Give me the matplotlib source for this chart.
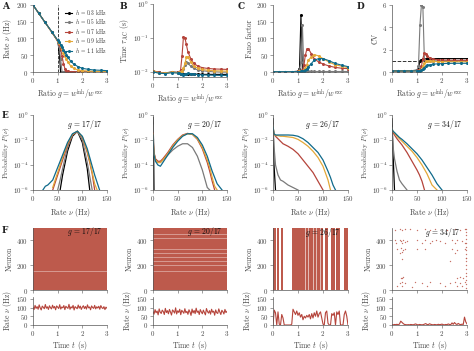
import numpy as np
import matplotlib
matplotlib.use("Agg")
import matplotlib.pyplot as plt

plt.rcParams.update({
    "font.family": "serif",
    "font.serif": ["cmr10", "DejaVu Serif"],
    "mathtext.fontset": "cm",
    "axes.formatter.use_mathtext": True,
    "font.size": 5,
    "axes.linewidth": 0.5,
    "axes.edgecolor": "#555555",
    "text.color": "#333333",
    "axes.labelcolor": "#444444",
    "xtick.color": "#555555",
    "ytick.color": "#555555",
    "xtick.labelcolor": "#444444",
    "ytick.labelcolor": "#444444",
})

W, H = 474, 351

# ---- data -------------------------------------------------------------
H_VALUES = [0.3, 0.5, 0.7, 0.9, 1.1]
H_COLORS = ["#000000", "#7a7a7a", "#b5443b", "#e3a838", "#0f6a8b"]

# g = n / 17
G_NUM = [0, 4, 8, 13, 17, 18, 19, 20, 21, 22, 23, 24, 26, 28, 31, 34, 38, 42, 47, 51]
nan = np.nan

A_RATE = [
    [200, 175, 150, 119, 92, 65, 0, 0, 0, 0, 0, 0, 0, 0, 0, 0, 0, 0, 0, 0],
    [200, 175, 150, 119, 93, 78, 40, 1, 0, 0, 0, 0, 0, 0, 0, 0, 0, 0, 0, 0],
    [200, 175, 150, 119, 93, 84, 70, 48, 25, 10, 4, 2, 1, 0.5, 0.3, 0.2, 0.1, 0.1, 0.1, 0.1],
    [200, 175, 150, 119, 94, 87, 78, 68, 58, 48, 38, 30, 18, 11, 6, 4, 3, 2, 1.5, 1],
    [200, 175, 150, 120, 95, 89, 82, 75, 67, 59, 51, 44, 32, 24, 16, 11, 8, 6, 5, 4],
]
B_TAU = [
    [0.0105, 0.0098, 0.0095, 0.0100, 0.0098, 0.0092, 0.0088, 0.0086, 0.0086, 0.0087,
     0.0088, 0.0088, 0.0088, 0.0087, 0.0087, 0.0086, 0.0086, 0.0086, 0.0086, 0.0086],
    [0.0105, 0.0098, 0.0094, 0.0099, 0.0097, 0.0095, 0.0098, 0.0105, 0.012, 0.016,
     0.020, 0.018, 0.015, 0.013, 0.0115, 0.011, 0.0105, 0.0102, 0.0100, 0.0100],
    [0.0110, 0.0099, 0.0095, 0.0100, 0.0098, 0.0100, 0.0115, 0.030, 0.11, 0.10,
     0.065, 0.040, 0.025, 0.018, 0.015, 0.0135, 0.0128, 0.0124, 0.0122, 0.0120],
    [0.0108, 0.0097, 0.0094, 0.0099, 0.0097, 0.0098, 0.0102, 0.011, 0.013, 0.018,
     0.027, 0.028, 0.020, 0.015, 0.013, 0.012, 0.0113, 0.0110, 0.0108, 0.0107],
    [0.0102, 0.0093, 0.0091, 0.0096, 0.0094, 0.0092, 0.0089, 0.0086, 0.0085, 0.0087,
     0.0090, 0.0092, 0.0091, 0.0088, 0.0085, 0.0083, 0.0082, 0.0081, 0.0080, 0.0080],
]
C_FANO = [
    [1, 1, 1, 1, 2, 8, 170, 2, nan, nan, nan, nan, nan, nan, nan, nan, nan, nan, nan, nan],
    [1, 1, 1, 1, 2, 5, 30, 140, 3, 2, 1.5, 1.5, 1.5, 1.5, 1.5, 1.5, 1.5, 1.5, 1.5, 1.5],
    [1, 1, 1, 1, 1.5, 2, 3, 5, 20, 50, 68, 70, 55, 40, 30, 24, 18, 14, 11, 10],
    [1, 1, 1, 1, 1.3, 1.5, 2, 3, 6, 12, 22, 35, 45, 52, 48, 40, 30, 22, 17, 13],
    [1, 1, 1, 1, 1.2, 1.3, 1.5, 2, 3, 5, 9, 15, 25, 35, 40, 40, 34, 26, 20, 16],
]
D_CV = [
    [0.1, 0.1, 0.1, 0.1, 0.15, 0.3, 1.0, 1.1, 1.15, 1.2, 1.2, 1.2, 1.2, 1.2, 1.2, 1.2, 1.2, 1.2, 1.2, 1.2],
    [0.1, 0.1, 0.1, 0.1, 0.2, 0.5, 4.2, 6.0, 5.8, 1.2, 1.0, 1.0, 1.0, 1.0, 1.0, 1.0, 1.0, 1.0, 1.0, 1.0],
    [0.1, 0.1, 0.1, 0.1, 0.12, 0.15, 0.2, 0.5, 1.2, 1.7, 1.6, 1.4, 1.25, 1.15, 1.1, 1.08, 1.06, 1.05, 1.05, 1.05],
    [0.1, 0.1, 0.1, 0.1, 0.1, 0.12, 0.15, 0.2, 0.5, 0.8, 0.95, 1.0, 1.0, 0.95, 0.93, 0.92, 0.92, 0.92, 0.92, 0.92],
    [0.1, 0.1, 0.1, 0.1, 0.1, 0.1, 0.12, 0.15, 0.25, 0.4, 0.5, 0.6, 0.65, 0.7, 0.73, 0.75, 0.77, 0.78, 0.78, 0.78],
]

# rate distributions, log10 P(nu)
E1_NU = [20, 25, 30, 40, 50, 55, 60, 70, 80, 90, 100, 110, 115, 120, 125, 130, 135, 140]
E1_LOGP = [
    [nan, nan, nan, nan, nan, -6, -4.8, -2.9, -1.7, -1.3, -2.2, -4.3, -6, nan, nan, nan, nan, nan],
    [nan, nan, nan, nan, -6, -5.2, -4.3, -2.6, -1.6, -1.3, -2.0, -3.8, -4.9, -6, nan, nan, nan, nan],
    [nan, nan, nan, -6, -4.8, -4.2, -3.6, -2.4, -1.6, -1.3, -1.8, -3.0, -3.8, -4.7, -6, nan, nan, nan],
    [nan, nan, nan, -5.8, -4.6, -4.0, -3.4, -2.3, -1.55, -1.3, -1.75, -2.9, -3.7, -4.6, -5.5, -6, nan, nan],
    [-6, -5.7, -5.6, -5.2, -4.2, -3.7, -3.2, -2.2, -1.5, -1.3, -1.7, -2.7, -3.4, -4.1, -4.8, -5.4, -6, nan],
]
E2_NU = [0, 1, 2, 5, 10, 15, 20, 30, 40, 50, 60, 70, 80, 90, 100, 110, 115, 120, 125, 130, 140]
E2_LOGP = [
    [-0.2, -2, -6, nan, nan, nan, nan, nan, nan, nan, nan, nan, nan, nan, nan, nan, nan, nan, nan, nan, nan],
    [-0.8, -2.2, -3.0, -3.6, -3.8, -3.8, -3.6, -3.2, -2.8, -2.5, -2.3, -2.3, -2.6, -3.3, -4.4, -5.8, -6, nan, nan, nan, nan],
    [-1.4, -2.4, -3.0, -3.5, -3.7, -3.7, -3.5, -3.0, -2.4, -1.95, -1.6, -1.47, -1.55, -1.95, -2.7, -3.8, -4.5, -5.3, -6, nan, nan],
    [-1.5, -2.5, -3.1, -3.6, -3.8, -3.8, -3.6, -3.1, -2.5, -2.0, -1.65, -1.5, -1.55, -1.9, -2.6, -3.6, -4.2, -5.0, -5.7, -6, nan],
    [-1.6, -2.6, -3.2, -3.7, -4.0, -4.1, -3.8, -3.2, -2.6, -2.1, -1.7, -1.5, -1.5, -1.8, -2.4, -3.3, -3.9, -4.5, -5.0, -5.5, -6],
]
E3_NU = [0, 2, 5, 10, 15, 20, 30, 40, 50, 60, 70, 80, 90, 100, 110, 115, 120, 125, 130]
E3_LOGP = [
    [-0.3, -4, -6, nan, nan, nan, nan, nan, nan, nan, nan, nan, nan, nan, nan, nan, nan, nan, nan],
    [-0.8, -2.5, -4.0, -4.8, -5.2, -5.3, -5.6, -5.8, -6, nan, nan, nan, nan, nan, nan, nan, nan, nan, nan],
    [-0.9, -1.5, -1.7, -1.9, -2.1, -2.3, -2.5, -2.75, -3.1, -3.6, -4.1, -4.6, -5.3, -6, nan, nan, nan, nan, nan],
    [-0.9, -1.5, -1.65, -1.65, -1.7, -1.7, -1.75, -1.8, -1.95, -2.2, -2.5, -2.9, -3.4, -4.1, -5.2, -6, nan, nan, nan],
    [-0.9, -1.5, -1.6, -1.6, -1.6, -1.6, -1.6, -1.62, -1.7, -1.9, -2.2, -2.6, -3.0, -3.6, -4.5, -5.0, -5.6, -6, nan],
]
E4_NU = [0, 2, 5, 10, 15, 20, 30, 40, 50, 55, 60, 65, 70, 80, 90, 100]
E4_LOGP = [
    [-0.3, -3, -6, nan, nan, nan, nan, nan, nan, nan, nan, nan, nan, nan, nan, nan],
    [-1.0, -2.5, -3.5, -4.5, -5.2, -5.5, -6, nan, nan, nan, nan, nan, nan, nan, nan, nan],
    [-1.1, -1.4, -1.6, -1.9, -2.15, -2.4, -3.0, -3.7, -4.4, -4.8, -5.3, -6, nan, nan, nan, nan],
    [-1.1, -1.3, -1.45, -1.7, -1.9, -2.1, -2.5, -2.9, -3.4, -3.7, -4.0, -4.35, -4.7, -5.6, -6, nan],
    [-1.1, -1.3, -1.4, -1.6, -1.8, -1.95, -2.3, -2.7, -3.1, -3.35, -3.6, -3.9, -4.2, -4.8, -5.5, -6],
]
E_LABELS = ["17/17", "20/17", "26/17", "34/17"]

# rasters: intervals where the whole network fires, weaker neurons
F1_ACTIVE = [(0.0, 3.0)]
F1_WEAK = [150]
F2_ACTIVE = [(0.0, 3.0)]
F2_WEAK = [150, 200, 230, 270, 300, 330, 420, 450]
F3_ACTIVE = [(0.0, 0.11), (0.17, 0.24), (0.31, 0.41), (0.76, 2.0), (2.09, 2.2),
             (2.31, 2.47), (2.53, 2.67), (2.84, 3.0)]
F3_GAPS = [1.28, 1.42, 1.6, 1.72, 1.88]
F4_SPIKE_T = [0.1, 0.3, 0.4, 0.5, 0.7, 1.0, 1.3, 1.5, 1.7, 2.2, 2.5, 2.7, 2.9,
              0.1, 0.3, 0.35, 0.45, 0.6, 1.0, 1.3, 1.6, 1.75, 1.9, 2.4, 2.6, 2.8,
              0.15, 0.4, 0.5, 1.2, 1.5, 2.1, 2.5, 2.9,
              0.2, 0.35, 0.45, 0.5, 1.0, 1.3, 2.4, 2.6, 2.9,
              0.3, 0.4, 2.5, 0.4, 2.3, 2.95,
              0.35, 0.4, 0.45, 2.6, 2.7, 2.85,
              0.3, 0.4, 0.5, 0.9, 1.2, 1.5, 1.9, 2.3, 2.5, 2.7, 2.9,
              0.2, 0.4, 0.8, 1.4, 2.1, 2.6, 2.8]
F4_SPIKE_N = [485, 490, 480, 488, 492, 485, 490, 482, 488, 486, 490, 484, 488,
              400, 405, 395, 402, 398, 404, 400, 396, 402, 398, 404, 400, 396,
              380, 378, 384, 380, 376, 382, 380, 378,
              330, 335, 325, 332, 328, 334, 330, 326, 332,
              300, 305, 298, 250, 230, 260,
              100, 95, 105, 98, 102, 96,
              60, 62, 58, 61, 59, 63, 60, 58, 62, 60, 61,
              30, 32, 28, 31, 29, 30, 32]
F4_COLUMN_N = [20, 50, 80, 110, 140, 170, 200, 230, 260, 290, 320, 350, 380, 410, 440, 470, 495]

F1_RATE = [100, 88, 112, 95, 105, 90, 115, 98, 86, 108, 101, 93, 117, 96, 104, 89, 110, 99,
           92, 113, 97, 106, 87, 109, 102, 94, 116, 91, 103, 98, 111, 88, 107, 100, 95, 118,
           90, 104, 97, 112, 86, 105, 99, 93, 114, 96, 108, 89, 102, 110, 94, 106, 91, 115,
           98, 103, 87, 109, 100, 95, 112, 92, 104, 97, 107, 90, 111, 99, 94, 105, 88, 102, 96]
F2_RATE = [75, 62, 88, 70, 80, 58, 92, 73, 66, 85, 77, 60, 95, 71, 82, 64, 89, 74, 57, 86,
           79, 68, 98, 63, 81, 72, 90, 59, 84, 76, 67, 93, 70, 78, 61, 87, 74, 55, 91, 69,
           83, 65, 96, 72, 80, 60, 88, 75, 64, 85, 71, 58, 94, 77, 68, 82, 62, 90, 73, 79,
           56, 86, 70, 66, 92, 74, 60, 84, 76, 63, 89, 71, 78]
F3_RATE = [0, 85, 70, 0, 75, 5, 0, 60, 40, 0, 0, 0, 0, 0, 0, 5, 90, 75, 60, 80, 55, 70, 45,
           60, 30, 50, 40, 55, 45, 60, 35, 65, 40, 70, 50, 80, 45, 65, 75, 40, 5, 0, 70, 80,
           10, 0, 0, 65, 55, 70, 0, 75, 60, 80, 0, 0, 0, 60, 80, 50, 0]
F4_RATE = [2, 1, 3, 2, 4, 1, 6, 22, 15, 8, 3, 2, 1, 2, 1, 3, 2, 1, 4, 6, 2, 1, 3, 2, 1, 2, 5,
           8, 3, 2, 7, 4, 2, 1, 3, 2, 1, 4, 2, 3, 5, 2, 1, 3, 2, 6, 3, 2, 12, 4, 14, 6, 3, 9,
           4, 2, 5, 3, 45, 18, 6]

RASTER_RED = "#bd5a4c"
TRACE_RED = "#b5443b"

# ---- figure -----------------------------------------------------------
fig = plt.figure(figsize=(W / 100, H / 100), dpi=100)


def box(x0, y0, x1, y1):
    ax = fig.add_axes([x0 / W, 1 - y1 / H, (x1 - x0) / W, (y1 - y0) / H])
    for s in ["top", "right"]:
        ax.spines[s].set_visible(False)
    ax.tick_params(length=2, width=0.4, pad=1.2, labelsize=5)
    return ax


def letter(x, y, s):
    fig.text(x / W, 1 - y / H, s, fontsize=6.5, weight="bold", family="DejaVu Serif",
             ha="left", va="top", color="#222222")


cols = [(33, 107), (153, 227), (273, 348), (392, 467)]
g = np.array(G_NUM) / 17
ratio_label = r"Ratio $g = w^{\rm inh}/w^{\rm exc}$"

row1 = [(A_RATE, "Rate $\\nu$ (Hz)", (0, 5, 72)), (B_TAU, r"Time $\tau_{\rm AC}$ (s)", (1, 4, 77)),
        (C_FANO, "Fano factor", (2, 5, 72)), (D_CV, "CV", (3, 5, 72))]
axes1 = []
for k, (vals, ylab, (c, y0, y1)) in enumerate(row1):
    ax = box(cols[c][0], y0, cols[c][1], y1)
    for i, series in enumerate(vals):
        ax.plot(g, series, color=H_COLORS[i], lw=0.8, marker="o", ms=1.2,
                label=f"$h$ = {H_VALUES[i]} kHz")
    ax.set_xlim(0, 3)
    ax.set_xticks([0, 1, 2, 3])
    ax.set_xlabel(ratio_label, fontsize=5.5, labelpad=2)
    ax.set_ylabel(ylab, fontsize=5.5, labelpad=2)
    axes1.append(ax)

axA, axB, axC, axD = axes1
axA.set_ylim(0, 200)
axA.set_yticks([0, 50, 100, 150, 200])
axA.axvline(1, color="#222222", ls="--", lw=0.6, zorder=0)
axA.legend(loc="upper right", bbox_to_anchor=(1.04, 1.02), fontsize=4, frameon=False,
           handlelength=1.3, labelspacing=0.1, borderpad=0.2, handletextpad=0.4)
axB.set_yscale("log")
axB.set_ylim(0.0072, 1)
axB.set_yticks([1e-2, 1e-1, 1])
axB.minorticks_off()
axC.set_ylim(0, 200)
axC.set_yticks([0, 50, 100, 150, 200])
axD.set_ylim(0, 6)
axD.set_yticks([0, 2, 4, 6])
axD.axhline(1, color="#333333", ls="--", lw=0.7, zorder=0)

letter(2, 2, "A")
letter(120, 2, "B")
letter(238, 2, "C")
letter(357, 2, "D")

# ---- row E ------------------------------------------------------------
E_NU = [E1_NU, E2_NU, E3_NU, E4_NU]
E_LOGP = [E1_LOGP, E2_LOGP, E3_LOGP, E4_LOGP]
e_text_x = [0.70, 0.70, 0.67, 0.71]
for c in range(4):
    ax = box(cols[c][0], 115, cols[c][1], 190)
    nu = np.array(E_NU[c])
    for i, logp in enumerate(E_LOGP[c]):
        ax.plot(nu, 10.0 ** np.array(logp), color=H_COLORS[i], lw=0.9)
    ax.set_yscale("log")
    ax.set_ylim(1e-6, 1)
    ax.set_yticks([1e-6, 1e-4, 1e-2, 1])
    ax.minorticks_off()
    ax.set_xlim(0, 150)
    ax.set_xticks([0, 50, 100, 150])
    ax.set_xlabel(r"Rate $\nu$ (Hz)", fontsize=5.5, labelpad=2)
    ax.set_ylabel(r"Probability $P(\nu)$", fontsize=5.2, labelpad=0.5)
    ax.text(e_text_x[c], 0.87, f"$g$ = {E_LABELS[c]}", transform=ax.transAxes,
            ha="center", va="center", fontsize=5.5, color="#111111")
letter(2, 111, "E")

# ---- row F ------------------------------------------------------------
F_ACTIVE = [F1_ACTIVE, F2_ACTIVE, F3_ACTIVE, []]
F_WEAK = [F1_WEAK, F2_WEAK, [], []]
F_RATE = [F1_RATE, F2_RATE, F3_RATE, F4_RATE]
f_text = [(0.70, 0.94), (0.70, 0.94), (0.67, 0.93), (0.68, 0.93)]
for c in range(4):
    ax = box(cols[c][0], 228, cols[c][1], 290)
    for t0, t1 in F_ACTIVE[c]:
        ax.axvspan(t0, t1, color=RASTER_RED, lw=0)
    for n in F_WEAK[c]:
        ax.axhline(n, color="white", lw=0.6, alpha=0.45)
    if c == 2:
        for t in F3_GAPS:
            ax.axvline(t, color="white", lw=0.7, alpha=0.6)
    if c == 3:
        ax.scatter(F4_SPIKE_T, F4_SPIKE_N, s=1.0, marker="o", color=RASTER_RED,
                   lw=0, alpha=0.85)
        ax.scatter([2.97] * len(F4_COLUMN_N), F4_COLUMN_N, s=1.0, marker="o",
                   color=RASTER_RED, lw=0, alpha=0.85)
    ax.set_xlim(0, 3)
    ax.set_ylim(0, 500)
    ax.set_yticks([0, 200, 400])
    ax.set_xticks([0, 1, 2, 3])
    ax.set_xticklabels([])
    ax.set_ylabel("Neuron", fontsize=5.5, labelpad=2)
    ax.text(f_text[c][0], f_text[c][1], f"$g$ = {E_LABELS[c]}", transform=ax.transAxes,
            ha="center", va="center", fontsize=5.5, color="#111111")

    axr = box(cols[c][0], 297, cols[c][1], 325)
    rate = np.array(F_RATE[c])
    t = np.linspace(0, 3, len(rate))
    axr.plot(t, rate, color=TRACE_RED, lw=0.8)
    axr.set_xlim(0, 3)
    axr.set_ylim(0, 160)
    axr.set_yticks([0, 50, 100, 150])
    axr.set_xticks([0, 1, 2, 3])
    axr.set_xlabel(r"Time $t$ (s)", fontsize=5.5, labelpad=0.5)
    axr.set_ylabel(r"Rate $\nu$ (Hz)", fontsize=5.5, labelpad=2)
letter(2, 226, "F")

fig.savefig("out.png", dpi=100)
